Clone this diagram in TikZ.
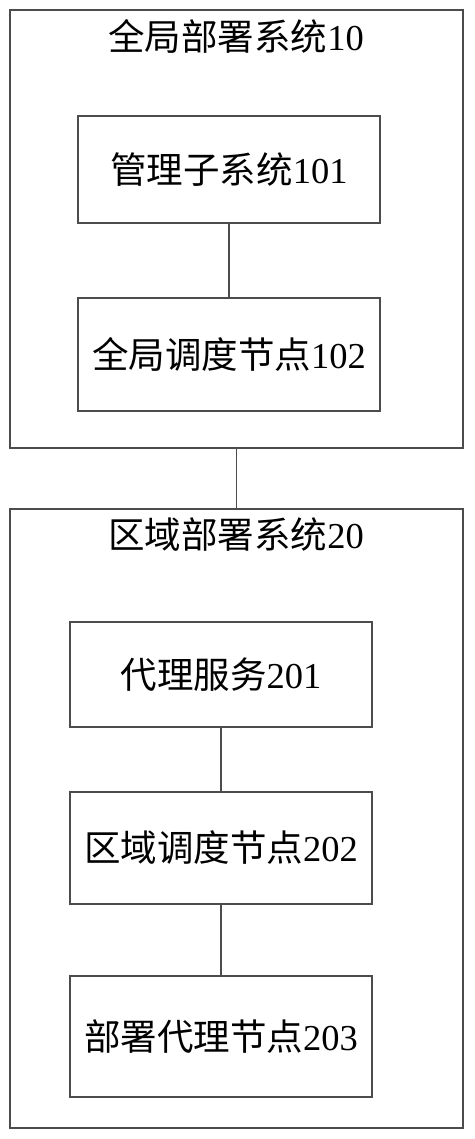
\documentclass[tikz,border=0pt]{standalone}
\usepackage{fontspec}
\setmainfont{Liberation Serif}
\newfontfamily\cjk{Noto Sans CJK SC}
\begin{document}
\begin{tikzpicture}[x=1pt,y=-1pt,
  box/.style={draw=black!70, line width=1.1pt, rectangle, inner sep=0pt},
  lbl/.style={inner sep=0pt, font=\fontsize{36.5}{40}\selectfont},
  conn/.style={draw=black!70, line width=1.1pt}]
\useasboundingbox (0,0) rectangle (474,1139);
% outer systems
\node[box, minimum width=453pt, minimum height=438pt] (g10) at (236.5,229) {};
\node[lbl] (g10t) at (236,36) {{\cjk 全局部署系统}10};
\node[box, minimum width=453pt, minimum height=619pt] (r20) at (236.5,818.5) {};
\node[lbl] (r20t) at (236,535) {{\cjk 区域部署系统}20};
% inner boxes
\node[box, lbl, minimum width=302pt, minimum height=107pt] (b101) at (229,169.5) {{\cjk 管理子系统}101};
\node[box, lbl, minimum width=302pt, minimum height=113pt] (b102) at (229,354.5) {{\cjk 全局调度节点}102};
\node[box, lbl, minimum width=302pt, minimum height=105pt] (b201) at (221,674.5) {{\cjk 代理服务}201};
\node[box, lbl, minimum width=302pt, minimum height=112pt] (b202) at (221,848) {{\cjk 区域调度节点}202};
\node[box, lbl, minimum width=302pt, minimum height=121pt] (b203) at (221,1036.5) {{\cjk 部署代理节点}203};
% connectors
\draw[conn] (b101.south) -- (b102.north);
\draw[conn] (g10.south) -- (r20.north);
\draw[conn] (b201.south) -- (b202.north);
\draw[conn] (b202.south) -- (b203.north);
\end{tikzpicture}
\end{document}
